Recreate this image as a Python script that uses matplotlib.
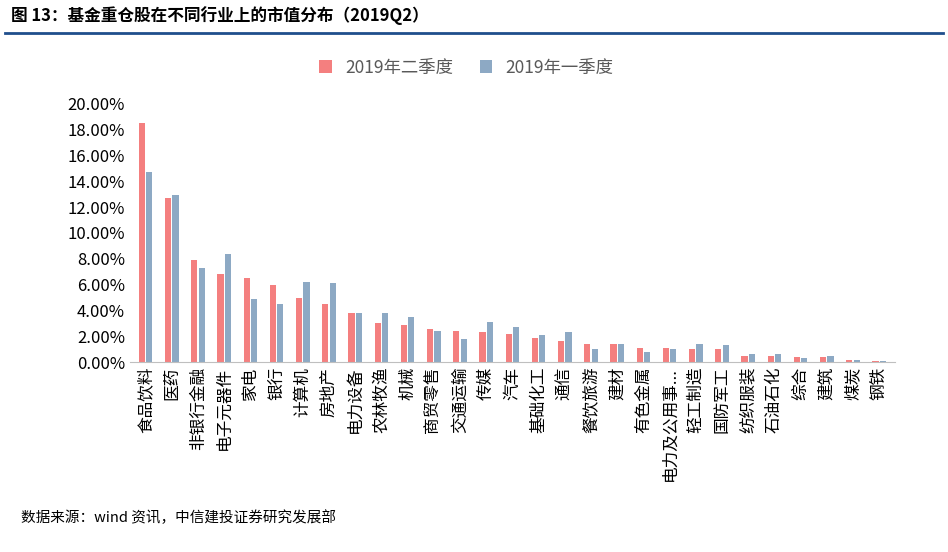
import matplotlib
matplotlib.use("Agg")
import matplotlib.pyplot as plt
import numpy as np
from matplotlib.ticker import FuncFormatter
from matplotlib.lines import Line2D

plt.rcParams["font.family"] = ["Noto Sans CJK SC", "DejaVu Sans"]

categories = ["食品饮料","医药","非银行金融","电子元器件","家电","银行","计算机","房地产","电力设备","农林牧渔",
              "机械","商贸零售","交通运输","传媒","汽车","基础化工","通信","餐饮旅游","建材","有色金属",
              "电力及公用事...","轻工制造","国防军工","纺织服装","石油石化","综合","建筑","煤炭","钢铁"]
q2 = [18.5,12.7,7.9,6.8,6.5,6.0,5.0,4.5,3.8,3.0,2.9,2.6,2.4,2.3,2.2,1.9,1.6,1.4,1.4,1.1,1.1,1.0,1.0,0.5,0.5,0.4,0.4,0.2,0.1]
q1 = [14.7,12.9,7.3,8.4,4.9,4.5,6.2,6.1,3.8,3.8,3.5,2.4,1.8,3.1,2.7,2.1,2.3,1.0,1.4,0.8,1.0,1.4,1.3,0.6,0.6,0.3,0.5,0.2,0.1]
series_names = ["2019年二季度","2019年一季度"]
yticks = [0,2,4,6,8,10,12,14,16,18,20]

c2 = "#F47F7F"
c1 = "#8DA9C4"

fig = plt.figure(figsize=(9.48,5.52), dpi=100)
fig.text(0.012, 0.972, "图 13：基金重仓股在不同行业上的市值分布（2019Q2）", fontsize=12, fontweight="bold", va="center")
fig.add_artist(Line2D([0.005,0.995],[0.94,0.94], color="#1F4E8C", lw=2))
fig.text(0.022, 0.062, "数据来源：wind 资讯，中信建投证券研究发展部", fontsize=10.5, style="italic", va="center")

ax = fig.add_axes([0.137,0.344,0.807,0.468])
x = np.arange(len(categories))
w = 0.24
ax.bar(x-w/2-0.02, q2, w, color=c2, label=series_names[0])
ax.bar(x+w/2+0.02, q1, w, color=c1, label=series_names[1])
ax.set_xlim(-0.6, len(categories)-0.4)
ax.set_ylim(0,20)
ax.set_yticks(yticks)
ax.yaxis.set_major_formatter(FuncFormatter(lambda v,p: f"{v:.2f}%"))
ax.set_xticks(x)
ax.set_xticklabels(categories, rotation=90, fontsize=12)
ax.tick_params(axis="y", labelsize=12, length=0)
ax.tick_params(axis="x", length=0)
for s in ["top","right","left"]:
    ax.spines[s].set_visible(False)
ax.spines["bottom"].set_color("#BFBFBF")
ax.legend(loc="center", bbox_to_anchor=(0.44,1.14), ncol=2, frameon=False, fontsize=12.5,
          handlelength=0.7, handleheight=0.7, labelcolor="#595959", columnspacing=1.5)
fig.savefig("out.png", dpi=100)
